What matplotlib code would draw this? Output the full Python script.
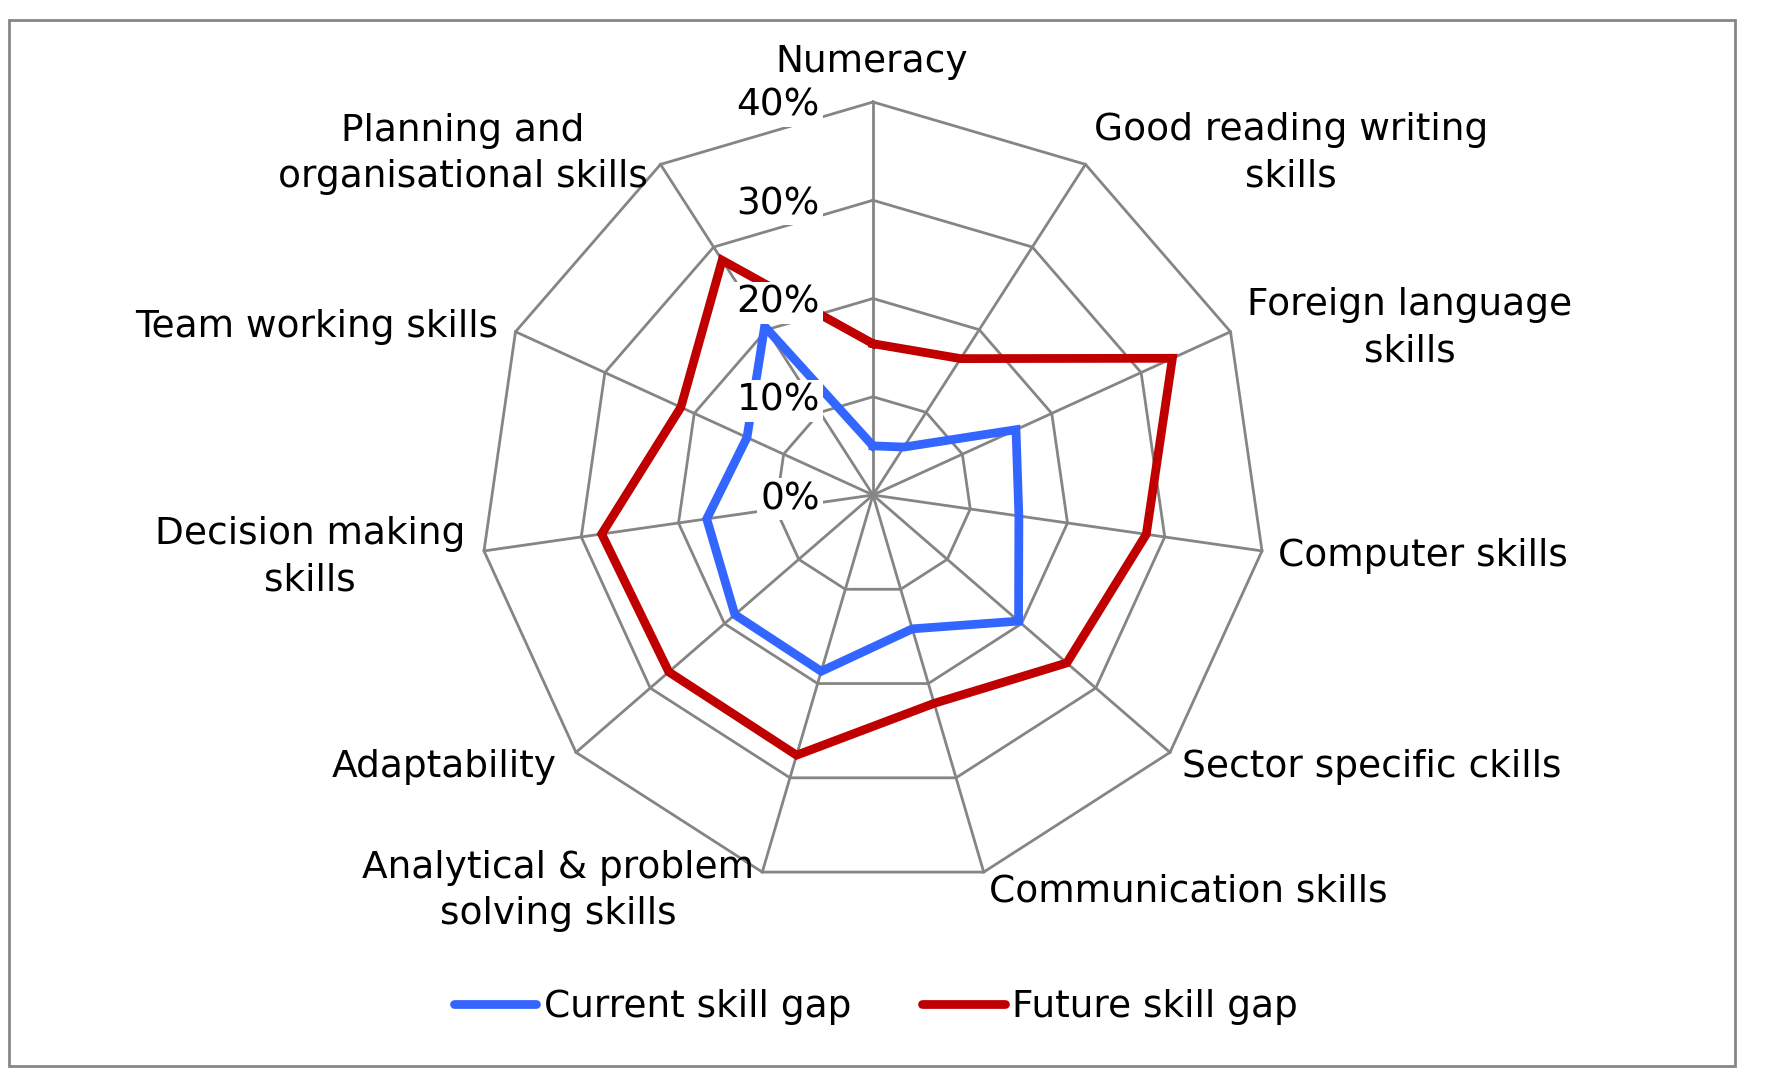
import numpy as np
import matplotlib
matplotlib.use("Agg")
import matplotlib.pyplot as plt
from matplotlib.patches import Rectangle
from matplotlib.lines import Line2D

categories = ["Numeracy", "Good reading writing\nskills", "Foreign language\nskills",
              "Computer skills", "Sector specific ckills", "Communication skills",
              "Analytical & problem\nsolving skills", "Adaptability", "Decision making\nskills",
              "Team working skills", "Planning and\norganisational skills"]
current_gap = [5.0, 5.8, 16.0, 15.0, 19.6, 14.2, 18.7, 18.6, 17.1, 14.1, 20.4]
future_gap = [15.4, 16.5, 33.5, 28.1, 26.1, 22.1, 27.6, 27.5, 27.9, 21.5, 28.4]
tick_levels = [0, 10, 20, 30, 40]
tick_labels = ["0%", "10%", "20%", "30%", "40%"]
series_names = ["Current skill gap", "Future skill gap"]

W, H = 1769, 1068
FS = 27
GRID = "#858585"
BLUE = "#3366FF"
RED = "#C00000"

fig = plt.figure(figsize=(W / 100, H / 100), dpi=100)
cx, cy, R = 873, 495, 393
ax = fig.add_axes([(cx - R) / W, (H - cy - R) / H, 2 * R / W, 2 * R / H], projection="polar")
ax.set_theta_offset(np.pi / 2)
ax.set_theta_direction(-1)
ax.set_ylim(0, 40)
ax.grid(False)
ax.spines["polar"].set_visible(False)
ax.set_xticks([])
ax.set_yticks([])
ax.patch.set_visible(False)

n = len(categories)
angles = np.arange(n) * 2 * np.pi / n
closed = np.append(angles, angles[0])

# polygon grid
for lv in tick_levels[1:]:
    ax.plot(closed, [lv] * (n + 1), color=GRID, lw=2.0, zorder=1, clip_on=False)
for a in angles:
    ax.plot([a, a], [0, tick_levels[-1]], color=GRID, lw=2.0, zorder=1, clip_on=False)

# series
for vals, col in [(current_gap, BLUE), (future_gap, RED)]:
    ax.plot(closed, list(vals) + [vals[0]], color=col, lw=6.3, zorder=3,
            solid_joinstyle="miter", clip_on=False)

# radial tick labels
for lv, lab in zip(tick_levels, tick_labels):
    ax.annotate(lab, xy=(0, lv), xytext=(-53, 0), textcoords="offset pixels",
                ha="right", va="center_baseline", fontsize=FS, zorder=6,
                bbox=dict(boxstyle="square,pad=0.08", fc="white", ec="none"))

# category labels: (anchor x px, center y px, ha)
label_pos = [(872, 62, "center"), (1094, 153, "left"), (1247, 328, "left"),
             (1278, 556, "left"), (1182, 767, "left"), (989, 891, "left"),
             (754, 891, "right"), (557, 767, "right"), (465, 557, "right"),
             (498, 327, "right"), (648, 154, "right")]
for lab, (x, y, ha) in zip(categories, label_pos):
    fig.text(x / W, 1 - y / H, lab, ha=ha, va="center", multialignment="center",
             fontsize=FS, linespacing=1.38)

# legend
handles = [Line2D([], [], color=BLUE, lw=6.3, solid_capstyle="round"),
           Line2D([], [], color=RED, lw=6.3, solid_capstyle="round")]
fig.legend(handles, series_names, loc="center", bbox_to_anchor=(876 / W, 1 - 1007 / H),
           ncol=2, frameon=False, fontsize=FS, handlelength=2.2, handletextpad=0.2,
           columnspacing=1.9)

# outer border
fig.add_artist(Rectangle((9 / W, 1 - 1066 / H), (1735 - 9) / W, (1066 - 20) / H,
                         transform=fig.transFigure, fill=False, ec="#868686", lw=2.0))

fig.savefig("out.png", dpi=100, facecolor="white")
